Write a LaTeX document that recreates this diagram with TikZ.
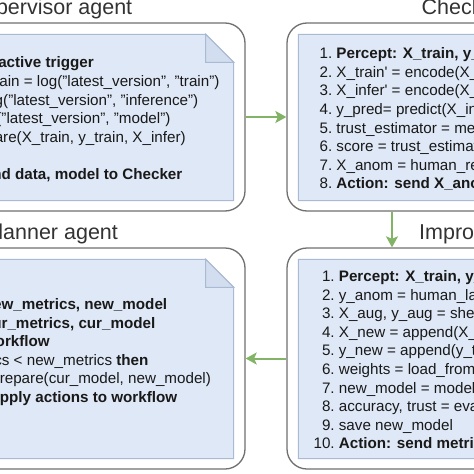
\documentclass[tikz,border=0pt]{standalone}
\usepackage{fontspec}
\setmainfont{Liberation Sans}
\usepackage{tikz}
\usetikzlibrary{arrows.meta,positioning,calc}
\definecolor{agentgreen}{RGB}{130,179,102}
\definecolor{agentgray}{RGB}{112,112,112}
\definecolor{notefill}{RGB}{223,232,246}
\definecolor{noteline}{RGB}{170,186,210}
\definecolor{foldfill}{RGB}{210,222,239}
\definecolor{titlegray}{RGB}{51,51,51}
\tikzstyle{arrow} = [line width=2pt,-{Stealth[length=11pt,width=12pt,inset=2.5pt]},color=agentgreen]
\tikzstyle{agent} = [draw=agentgray,line width=1.3pt,fill=white,rounded corners=20pt]
\tikzstyle{note} = [draw=noteline,line width=1pt,fill=notefill]
\tikzstyle{fold} = [draw=noteline,line width=1pt,fill=foldfill]
\tikzstyle{title} = [font=\fontsize{21.5}{25}\selectfont,text=titlegray,inner sep=0pt]
\tikzstyle{code} = [font=\fontsize{15.2}{18.6}\selectfont,text=black!90,inner sep=0pt,anchor=west]
% note shape inside an agent box
\newcommand{\notedoc}[1]{%
  \coordinate (#1-nw) at ($(#1.north west)+(12,12)$);
  \coordinate (#1-se) at ($(#1.south east)+(-12,-11)$);
  \coordinate (#1-ne) at (#1-nw -| #1-se);
  \draw[note] (#1-nw) -- ($(#1-ne)+(-28,0)$) -- ($(#1-ne)+(0,28)$) -- (#1-se) -- (#1-se -| #1-nw) -- cycle;
  \draw[fold] ($(#1-ne)+(-28,0)$) -- ($(#1-ne)+(-28,28)$) -- ($(#1-ne)+(0,28)$) -- cycle;
}

\begin{document}
\begin{tikzpicture}[x=1pt,y=-1pt]
\useasboundingbox (0,0) rectangle (474,474);
\clip (0,0) rectangle (474,474);

\node[agent, minimum width=388pt, minimum height=188pt] (super) at (51,117) {};
\node[agent, minimum width=409pt, minimum height=188pt] (checker) at (491.5,117) {};
\node[agent, minimum width=388pt, minimum height=221pt] (planner) at (51,358.5) {};
\node[agent, minimum width=409pt, minimum height=221pt] (improver) at (491.5,358.5) {};

\notedoc{super}
\notedoc{checker}
\notedoc{planner}
\notedoc{improver}

\node[title, above=3.5pt of super] {Supervisor agent};
\node[title, above=3.5pt of checker] {Checker agent};
\node[title, above=3.5pt of planner] {Planner agent};
\node[title, above=3.5pt of improver] {Improver agent};

\node[code] (supertxt) at ($(super.west)+(44,3)$) {\begin{tabular}{@{}r@{\ }l@{}}
1. & \textbf{Percept: reactive trigger}\\
2. & X\_train, y\_train = log("latest\_version", "train")\\
3. & X\_infer = log("latest\_version", "inference")\\
4. & model = log("latest\_version", "model")\\
5. & data = prepare(X\_train, y\_train, X\_infer)\\
 & \\
7. & \textbf{Action: send data, model to Checker}
\end{tabular}};

\node[code] (checkertxt) at ($(checker.west)+(33,3)$) {\begin{tabular}{@{}r@{\ }l@{}}
1. & \textbf{Percept: X\_train, y\_train, X\_infer, model}\\
2. & X\_train\textquotesingle{} = encode(X\_train)\\
3. & X\_infer\textquotesingle{} = encode(X\_infer)\\
4. & y\_pred= predict(X\_infer\textquotesingle, model)\\
5. & trust\_estimator = meta\_model(X\_train\textquotesingle, y\_train)\\
6. & score = trust\_estimator(X\_infer\textquotesingle, y\_pred)\\
7. & X\_anom = human\_review(X\_infer, score)\\
8. & \textbf{Action: send X\_anom to Improver}
\end{tabular}};

\node[code] (plannertxt) at ($(planner.west)+(44,3)$) {\begin{tabular}{@{}r@{\ }l@{}}
1. & \textbf{Percept: new\_metrics, new\_model}\\
2. & \textbf{Percept: cur\_metrics, cur\_model}\\
3. & \textbf{Percept: workflow}\\
4. & \textbf{if} cur\_metrics < new\_metrics \textbf{then}\\
5. & \hspace{16pt}action = prepare(cur\_model, new\_model)\\
6. & \hspace{16pt}\textbf{Action: apply actions to workflow}\\
 &
\end{tabular}};

\node[code] (improvertxt) at ($(improver.west)+(27,3)$) {\begin{tabular}{@{}r@{\ }l@{}}
1. & \textbf{Percept: X\_train, y\_train, X\_anom}\\
2. & y\_anom = human\_label(X\_anom)\\
3. & X\_aug, y\_aug = shelve(X\_anom, y\_anom)\\
4. & X\_new = append(X\_train, X\_aug)\\
5. & y\_new = append(y\_train, y\_aug)\\
6. & weights = load\_from(model)\\
7. & new\_model = model.fit(X\_new, y\_new, weights)\\
8. & accuracy, trust = evaluate(new\_model)\\
9. & save new\_model\\
10. & \textbf{Action: send metrics, new\_model to Planner}
\end{tabular}};

\coordinate (downx) at (392,0);
\draw[arrow] (super.east) -- (checker.west);
\draw[arrow] (checker.south -| downx) -- (improver.north -| downx);
\draw[arrow] (improver.west) -- (planner.east);
\end{tikzpicture}
\end{document}
